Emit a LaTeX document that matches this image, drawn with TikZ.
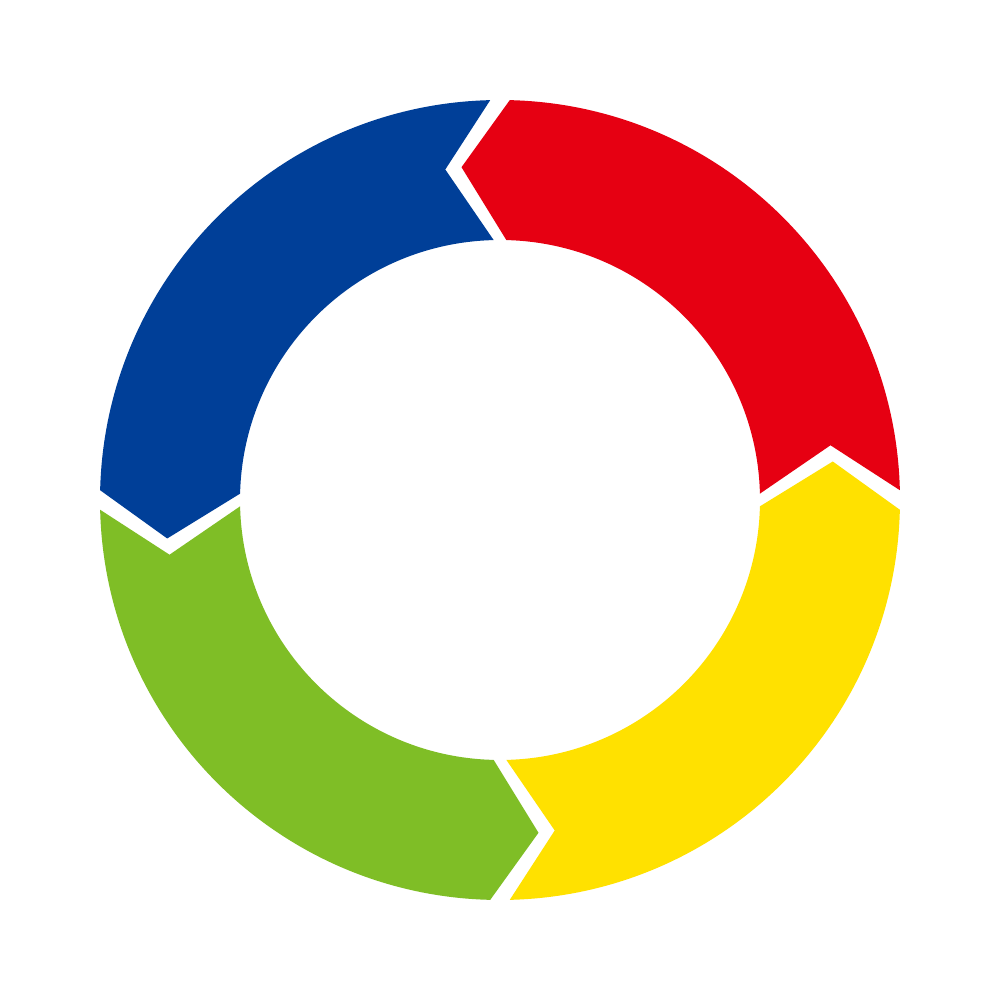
\documentclass[tikz,border=0pt]{standalone}
\usepackage{tikz}
\definecolor{cycleblue}{RGB}{0,63,152}
\definecolor{cyclered}{RGB}{230,0,18}
\definecolor{cycleyellow}{RGB}{255,225,0}
\definecolor{cyclegreen}{RGB}{127,190,38}

\begin{document}
\begin{tikzpicture}[
    segment/.style={draw=none},
    blueseg/.style={segment, fill=cycleblue},
    redseg/.style={segment, fill=cyclered},
    yellowseg/.style={segment, fill=cycleyellow},
    greenseg/.style={segment, fill=cyclegreen},
]

% === Canvas ===
\useasboundingbox[fill=white] (-5, -5) rectangle (5, 5);

% === Red arrow (right -> top) ===
\fill[redseg] (1.4:4) arc[start angle=1.4, end angle=88.6, radius=4]
    -- (96.6:3.35) -- (88.6:2.6)
    arc[start angle=88.6, end angle=1.4, radius=2.6]
    -- (9.4:3.35) -- cycle;

% === Blue arrow (top -> left) ===
\fill[blueseg] (91.4:4) arc[start angle=91.4, end angle=178.6, radius=4]
    -- (186.6:3.35) -- (178.6:2.6)
    arc[start angle=178.6, end angle=91.4, radius=2.6]
    -- (99.4:3.35) -- cycle;

% === Green arrow (left -> bottom) ===
\fill[greenseg] (181.4:4) arc[start angle=181.4, end angle=268.6, radius=4]
    -- (276.6:3.35) -- (268.6:2.6)
    arc[start angle=268.6, end angle=181.4, radius=2.6]
    -- (189.4:3.35) -- cycle;

% === Yellow arrow (bottom -> right) ===
\fill[yellowseg] (271.4:4) arc[start angle=271.4, end angle=358.6, radius=4]
    -- (366.6:3.35) -- (358.6:2.6)
    arc[start angle=358.6, end angle=271.4, radius=2.6]
    -- (279.4:3.35) -- cycle;

\end{tikzpicture}
\end{document}
